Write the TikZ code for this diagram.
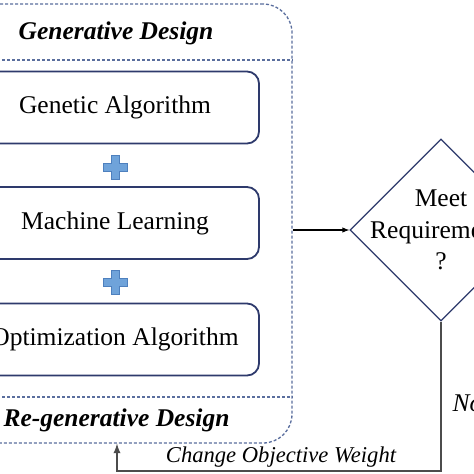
\documentclass[tikz,border=0pt]{standalone}
\usepackage{fontspec}
\setmainfont{Liberation Serif}
\usetikzlibrary{arrows}
\usetikzlibrary{shapes.geometric}
\definecolor{boxline}{HTML}{2E3A6C}
\definecolor{dashline}{HTML}{5A6E9E}
\definecolor{plusfill}{HTML}{6FA3DA}
\definecolor{plusline}{HTML}{4E80BE}
\tikzset{
  algbox/.style={draw=boxline, line width=1.8pt, rounded corners=12pt,
    minimum width=288pt, minimum height=72pt, inner sep=0pt,
    font=\fontsize{25.5}{31}\selectfont},
}

\begin{document}
\begin{tikzpicture}[x=1pt, y=-1pt]
    \useasboundingbox (0,0) rectangle (474,474);
    \fill [white] (0,0) rectangle (474,474);
    \clip (0,0) rectangle (474,474);

    % outer dashed frame
    \node [draw=dashline, line width=1.3pt, dash pattern=on 3pt off 2pt, rounded corners=29pt,
      minimum width=354pt, minimum height=439pt] (gd) at (115, 223.5) {};
    \draw [dashline, line width=1.3pt, dash pattern=on 3pt off 2pt] (gd.west |- 0,60) -- (gd.east |- 0,60);
    \draw [dashline, line width=1.3pt, dash pattern=on 3pt off 2pt] (gd.west |- 0,397) -- (gd.east |- 0,397);
    \node [font=\fontsize{25.5}{31}\selectfont\bfseries\itshape] (gdtitle) at (116, 33) {Generative Design};
    \node [font=\fontsize{25.5}{31}\selectfont\bfseries\itshape] (rgtitle) at (116.5, 420) {Re-generative Design};

    \node [algbox] (ga) at (115, 107.5) {Genetic Algorithm};
    \node [algbox] (ml) at (115, 223) {Machine Learning};
    \node [algbox] (oa) at (115, 339.5) {Optimization Algorithm};

    \foreach \py in {167, 282}
      \draw [fill=plusfill, draw=plusline, line width=0.6pt, shift={(115,\py)}]
        (-4,-12) -- (4,-12) -- (4,-4) -- (12,-4) -- (12,4) -- (4,4) -- (4,12)
        -- (-4,12) -- (-4,4) -- (-12,4) -- (-12,-4) -- (-4,-4) -- cycle;

    \node [diamond, draw=boxline, line width=1.3pt, minimum width=182pt, minimum height=182pt,
      inner sep=0pt] (meet) at (441, 230) {};
    \node [align=center, font=\fontsize{25.5}{31.5}\selectfont] (meettext) at (meet.center) {Meet\\Requirements\\?};

    \draw [-latex, line width=1.4pt] (gd.east |- meet.west) -- (meet.west);

    \coordinate (turn) at (117, 471);
    \draw [-latex, line width=2.2pt, black!70] (meet.south) |- (turn) -- (turn |- gd.south);
    \node [anchor=west, font=\fontsize{25.5}{31}\selectfont\itshape] (no) at (449, 403) {No};
    \node [font=\fontsize{22.6}{28}\selectfont\itshape] (cow) at (281, 457) {Change Objective Weight};
\end{tikzpicture}
\end{document}
